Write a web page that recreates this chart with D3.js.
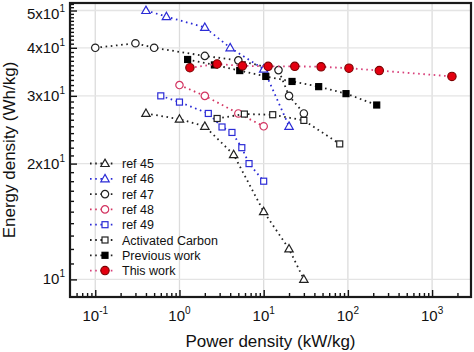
<!DOCTYPE html>
<html>
<head>
<meta charset="utf-8">
<script src="https://cdn.jsdelivr.net/npm/d3@7"></script>
<style>
  body { margin: 0; background: #fff; }
  svg { display: block; font-family: "Liberation Sans", Arial, sans-serif; }
</style>
</head>
<body>
<svg id="chart" width="474" height="352"></svg>
<script>
// values (power density kW/kg, energy density Wh/kg)
const ref45X = [0.4, 1, 2, 4.4, 10, 20, 30];
const ref45Y = [27, 26.1, 25, 21.1, 15, 12, 10];
const ref46X = [0.4, 0.7, 2, 4, 10, 20];
const ref46Y = [50, 48.2, 45.2, 40, 35.2, 25];
const ref47X = [0.1, 0.3, 0.5, 2, 5, 15, 20, 30];
const ref47Y = [40, 41.1, 40, 38.1, 37.1, 35, 30, 27];
const ref48X = [1, 2, 5, 10];
const ref48Y = [32, 30, 27, 25];
const ref49X = [0.6, 1, 2.2, 3.2, 4.2, 5.5, 6.7, 10];
const ref49Y = [30, 28.9, 27, 24.9, 24.1, 22, 20, 18];
const carbonX = [2.8, 5.9, 12.8, 30, 80];
const carbonY = [26.2, 26.9, 26.8, 25.9, 22.5];
const prevX = [1.25, 2.6, 5.2, 10.6, 21.7, 45, 95, 220];
const prevY = [37.3, 36.1, 34.9, 33.7, 32.7, 31.7, 30.4, 28.4];
const thisX = [1.33, 2.8, 5.6, 11.3, 23.4, 48, 103, 236, 1720];
const thisY = [35.5, 36.3, 35.9, 35.8, 35.8, 35.7, 35.4, 34.9, 33.7];

const seriesNames = ["ref 45", "ref 46", "ref 47", "ref 48", "ref 49", "Activated Carbon", "Previous work", "This work"];
const xTicks = [0.1, 1, 10, 100, 1000];
const xTickExp = ["-1", "0", "1", "2", "3"];
const yTicks = [10, 20, 30, 40, 50];
const yTickLabels = [["", "1"], ["2x", "1"], ["3x", "1"], ["4x", "1"], ["5x", "1"]];

const blue = "#2b2bd6", crimson = "#d33562", ink = "#222";
const styles = [
  { xs: ref45X, ys: ref45Y, shape: "tri", line: ink, stroke: ink, fill: "#fff" },
  { xs: ref46X, ys: ref46Y, shape: "tri", line: blue, stroke: blue, fill: "#fff" },
  { xs: ref47X, ys: ref47Y, shape: "circ", line: ink, stroke: ink, fill: "#fff" },
  { xs: ref48X, ys: ref48Y, shape: "circ", line: crimson, stroke: crimson, fill: "#fff" },
  { xs: ref49X, ys: ref49Y, shape: "sq", line: blue, stroke: blue, fill: "#fff" },
  { xs: carbonX, ys: carbonY, shape: "sq", line: ink, stroke: ink, fill: "#fff" },
  { xs: prevX, ys: prevY, shape: "sq", line: ink, stroke: "#000", fill: "#000" },
  { xs: thisX, ys: thisY, shape: "bigcirc", line: "#d8407a", stroke: "#7a0000", fill: "#e30010" }
];

const svg = d3.select("#chart");
const margin = { top: 3, right: 3, bottom: 55, left: 70 };
const width = 474, height = 352;
const x0 = margin.left, x1 = width - margin.right;
const y0 = margin.top, y1 = height - margin.bottom;

const x = d3.scaleLog().domain([Math.pow(10, -1.3), Math.pow(10, 3.462)]).range([x0, x1]);
const y = d3.scaleLog().domain([9.0, 52.3]).range([y1, y0]);

// grid
svg.append("g").selectAll("line").data(xTicks).join("line")
  .attr("x1", d => x(d)).attr("x2", d => x(d))
  .attr("y1", y0).attr("y2", y1)
  .attr("stroke", "#dcdcdc").attr("stroke-width", 1.3);
svg.append("g").selectAll("line").data(yTicks).join("line")
  .attr("x1", x0).attr("x2", x1)
  .attr("y1", d => y(d)).attr("y2", d => y(d))
  .attr("stroke", "#e4e4e4").attr("stroke-width", 1.3);

// minor ticks
const xMinor = [];
for (let e = -2; e <= 3; e++) for (let m = 2; m <= 9; m++) {
  const v = m * Math.pow(10, e);
  if (v > x.domain()[0] && v < x.domain()[1]) xMinor.push(v);
}
const yMinor = d3.range(10, 53).filter(v => v % 10 !== 0 && v < y.domain()[1]);

const xAxis = svg.append("g").attr("transform", `translate(0,${y1})`);
xAxis.call(d3.axisBottom(x).tickValues(xTicks).tickSize(-7).tickFormat(""));
const xAxisMinor = svg.append("g").attr("transform", `translate(0,${y1})`);
xAxisMinor.call(d3.axisBottom(x).tickValues(xMinor).tickSize(-4).tickFormat(""));

const yAxis = svg.append("g").attr("transform", `translate(${x0},0)`);
yAxis.call(d3.axisLeft(y).tickValues(yTicks).tickSize(-7).tickFormat(""));
const yAxisMinor = svg.append("g").attr("transform", `translate(${x0},0)`);
yAxisMinor.call(d3.axisLeft(y).tickValues(yMinor).tickSize(-4).tickFormat(""));

svg.selectAll(".domain").remove();
svg.selectAll(".tick line").attr("stroke", "#111").attr("stroke-width", 1.4);

// frame
svg.append("rect")
  .attr("x", x0).attr("y", y0)
  .attr("width", x1 - x0).attr("height", y1 - y0)
  .attr("fill", "none").attr("stroke", "#1a1a1a").attr("stroke-width", 2.2);

// tick labels
const xl = svg.append("g").selectAll("text").data(xTicks).join("text")
  .attr("x", d => x(d)).attr("y", y1 + 24)
  .attr("text-anchor", "middle").attr("font-size", 15).attr("fill", "#111");
xl.append("tspan").text("10");
xl.append("tspan").attr("dy", -7).attr("font-size", 10).text((d, i) => xTickExp[i]);

const yl = svg.append("g").selectAll("text").data(yTicks).join("text")
  .attr("x", x0 - 5).attr("y", (d, i) => y(d) + 5 + (i === 4 ? 3 : 0))
  .attr("text-anchor", "end").attr("font-size", 15).attr("fill", "#111");
yl.append("tspan").text((d, i) => yTickLabels[i][0] + "10");
yl.append("tspan").attr("dy", -7).attr("font-size", 10).text((d, i) => yTickLabels[i][1]);

// axis titles
svg.append("text")
  .attr("x", (x0 + x1) / 2).attr("y", 347)
  .attr("text-anchor", "middle").attr("font-size", 17).attr("fill", "#111")
  .text("Power density (kW/kg)");
svg.append("text")
  .attr("transform", `translate(15,${(y0 + y1) / 2}) rotate(-90)`)
  .attr("text-anchor", "middle").attr("font-size", 17).attr("fill", "#111")
  .text("Energy density (Wh/kg)");

function drawMarker(g, shape, s) {
  if (shape === "tri") {
    g.append("path").attr("d", "M0,-4.4L4.2,3L-4.2,3Z");
  } else if (shape === "circ") {
    g.append("circle").attr("r", 3.7);
  } else if (shape === "sq") {
    g.append("rect").attr("x", -3).attr("y", -3).attr("width", 6).attr("height", 6);
  } else {
    g.append("circle").attr("r", 4.2);
  }
  g.selectAll("*").attr("fill", s.fill).attr("stroke", s.stroke)
    .attr("stroke-width", shape === "bigcirc" ? 1.1 : 1.2);
}

const line = d3.line().x(d => x(d[0])).y(d => y(d[1]));

styles.forEach(s => {
  const pts = s.xs.map((v, i) => [v, s.ys[i]]);
  svg.append("path")
    .attr("d", line(pts))
    .attr("fill", "none").attr("stroke", s.line)
    .attr("stroke-width", 1.8).attr("stroke-dasharray", "1.6 3.6");
  pts.forEach(p => {
    const g = svg.append("g").attr("transform", `translate(${x(p[0])},${y(p[1])})`);
    drawMarker(g, s.shape, s);
  });
});

// legend
const legend = svg.append("g");
seriesNames.forEach((name, i) => {
  const s = styles[i];
  const ly = 163.5 + i * 15.3;
  legend.append("line")
    .attr("x1", 90).attr("x2", 115).attr("y1", ly).attr("y2", ly)
    .attr("stroke", s.line).attr("stroke-width", 1.8).attr("stroke-dasharray", "1.6 3.6");
  const g = legend.append("g").attr("transform", `translate(105,${ly})`);
  drawMarker(g, s.shape, s);
  legend.append("text")
    .attr("x", 122).attr("y", ly + 4.5)
    .attr("font-size", 12.5).attr("fill", "#111")
    .text(name);
});
</script>
</body>
</html>
